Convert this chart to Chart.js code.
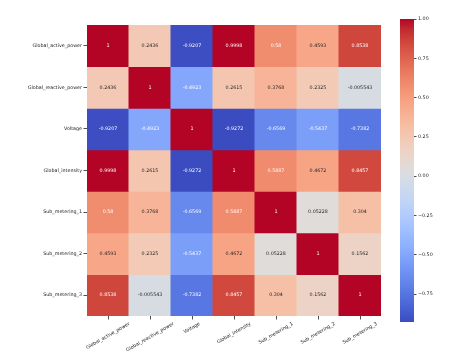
<!DOCTYPE html>
<html>
<head>
<meta charset="utf-8">
<script src="https://cdn.jsdelivr.net/npm/chart.js@4"></script>
<style>
html, body { margin: 0; padding: 0; background: #fff; }
#wrap { position: relative; width: 476px; height: 360px; }
canvas { position: absolute; left: 0; top: 0; }
</style>
</head>
<body>
<div id="wrap">
    <canvas id="heat" width="476" height="360"></canvas>
    <canvas id="cbar" width="476" height="360"></canvas>
</div>
<script>
// correlation matrix, one array per row
const labels = ["Global_active_power", "Global_reactive_power", "Voltage", "Global_intensity",
                "Sub_metering_1", "Sub_metering_2", "Sub_metering_3"];
const rowActive    = [1, 0.2436, -0.9207, 0.9998, 0.58, 0.4593, 0.8538];
const rowReactive  = [0.2436, 1, -0.4923, 0.2615, 0.3768, 0.2325, -0.005543];
const rowVoltage   = [-0.9207, -0.4923, 1, -0.9272, -0.6569, -0.5437, -0.7382];
const rowIntensity = [0.9998, 0.2615, -0.9272, 1, 0.5887, 0.4672, 0.8457];
const rowSub1      = [0.58, 0.3768, -0.6569, 0.5887, 1, 0.05228, 0.304];
const rowSub2      = [0.4593, 0.2325, -0.5437, 0.4672, 0.05228, 1, 0.1562];
const rowSub3      = [0.8538, -0.005543, -0.7382, 0.8457, 0.304, 0.1562, 1];
const cbarTicks    = [-0.75, -0.5, -0.25, 0, 0.25, 0.5, 0.75, 1];

const rows = [rowActive, rowReactive, rowVoltage, rowIntensity, rowSub1, rowSub2, rowSub3];
const vmin = Math.min(...rows.flat());
const vmax = Math.max(...rows.flat());

// coolwarm colormap stops
const cw = [
    [59,76,192],[68,90,204],[77,104,215],[87,117,225],[98,130,234],[108,142,241],[119,154,247],
    [130,165,251],[141,176,254],[152,185,255],[163,194,255],[174,201,253],[184,208,249],
    [194,213,244],[204,217,238],[213,219,230],[221,221,221],[229,216,209],[236,211,197],
    [241,204,185],[245,196,173],[247,187,160],[247,177,148],[247,166,135],[244,154,123],
    [241,141,111],[236,127,99],[229,112,88],[222,96,77],[213,80,66],[203,62,56],[192,40,47],[180,4,38]
];
function cmap(t) {
    t = Math.max(0, Math.min(1, t));
    const p = t * (cw.length - 1);
    const i = Math.min(Math.floor(p), cw.length - 2);
    const f = p - i;
    return cw[i].map((c, k) => c + (cw[i + 1][k] - c) * f);
}
const norm = v => (v - vmin) / (vmax - vmin);
const rgb = c => `rgb(${c.map(Math.round).join(",")})`;
function textColor(c) {
    const lin = c.map(x => { x /= 255; return x <= 0.03928 ? x / 12.92 : Math.pow((x + 0.055) / 1.055, 2.4); });
    const lum = 0.2126 * lin[0] + 0.7152 * lin[1] + 0.0722 * lin[2];
    return lum > 0.408 ? "#262626" : "#ffffff";
}
function fmt(v) {
    let s = v.toPrecision(4);
    if (s.indexOf(".") >= 0) s = s.replace(/0+$/, "").replace(/\.$/, "");
    return s;
}

const FONT = "DejaVu Sans";
const FS = 4.8;
const INK = "#222222";

const cellText = {
    id: "cellText",
    afterDatasetsDraw(chart) {
        const ctx = chart.ctx;
        ctx.save();
        ctx.font = `${FS}px "${FONT}"`;
        ctx.textAlign = "center";
        ctx.textBaseline = "middle";
        rows.forEach((row, i) => {
            const meta = chart.getDatasetMeta(i);
            meta.data.forEach((bar, j) => {
                const p = bar.getProps(["x", "y", "base"], true);
                ctx.fillStyle = textColor(cmap(norm(row[j])));
                ctx.fillText(fmt(row[j]), p.x, (p.y + p.base) / 2);
            });
        });
        ctx.restore();
    }
};

// rotated x labels, centred under their tick like matplotlib
const xLabels = {
    id: "xLabels",
    afterDraw(chart) {
        const ctx = chart.ctx;
        const xs = chart.scales.x;
        const ang = 30 * Math.PI / 180;
        ctx.save();
        ctx.font = `${FS}px "${FONT}"`;
        ctx.fillStyle = INK;
        ctx.textAlign = "center";
        ctx.textBaseline = "middle";
        labels.forEach((lab, j) => {
            const w = ctx.measureText(lab).width;
            const h = FS * 1.2;
            const H = w * Math.sin(ang) + h * Math.cos(ang);
            const top = chart.chartArea.bottom + 5;
            ctx.save();
            ctx.translate(xs.getPixelForTick(j), top + H / 2);
            ctx.rotate(-ang);
            ctx.fillText(lab, 0, 0);
            ctx.restore();
        });
        ctx.restore();
    }
};

new Chart(document.getElementById("heat").getContext("2d"), {
    type: "bar",
    data: {
        labels: labels,
        datasets: rows.map((row, i) => ({
            data: row.map(() => [i, i + 1]),
            backgroundColor: row.map(v => rgb(cmap(norm(v)))),
            grouped: false,
            barPercentage: 1,
            categoryPercentage: 1,
            borderWidth: 0,
            inflateAmount: 0.5
        }))
    },
    options: {
        responsive: false,
        animation: false,
        events: [],
        layout: { padding: { left: 0, top: 25, right: 95, bottom: 0 } },
        plugins: { legend: { display: false }, tooltip: { enabled: false } },
        scales: {
            x: {
                type: "category",
                offset: true,
                border: { display: false },
                grid: { drawOnChartArea: false, drawTicks: true, offset: false, tickLength: 3.5, tickWidth: 0.8, tickColor: INK },
                ticks: { display: false },
                afterFit: s => { s.height = 44; }
            },
            y: {
                type: "linear",
                min: 0,
                max: 7,
                reverse: true,
                afterBuildTicks: s => { s.ticks = labels.map((_, i) => ({ value: i + 0.5 })); },
                border: { display: false },
                grid: { drawOnChartArea: false, tickLength: 3.5, tickWidth: 0.8, tickColor: INK },
                ticks: { autoSkip: false, padding: 1.5, color: INK, font: { family: FONT, size: FS },
                         callback: (v, i) => labels[i] },
                afterFit: s => { s.width = 87; }
            }
        }
    },
    plugins: [cellText, xLabels]
});

new Chart(document.getElementById("cbar").getContext("2d"), {
    type: "bar",
    data: {
        labels: [""],
        datasets: [{
            data: [[vmin, vmax]],
            barPercentage: 1,
            categoryPercentage: 1,
            borderWidth: 0,
            backgroundColor: c => {
                const chart = c.chart;
                if (!chart.chartArea) return "#ddd";
                const ys = chart.scales.y;
                const g = chart.ctx.createLinearGradient(0, ys.getPixelForValue(vmin), 0, ys.getPixelForValue(vmax));
                cw.forEach((col, k) => g.addColorStop(k / (cw.length - 1), rgb(col)));
                return g;
            }
        }]
    },
    options: {
        responsive: false,
        animation: false,
        events: [],
        layout: { padding: { left: 400, top: 19, right: 0, bottom: 38 } },
        plugins: { legend: { display: false }, tooltip: { enabled: false } },
        scales: {
            x: { display: false },
            y: {
                position: "right",
                min: vmin,
                max: vmax,
                afterBuildTicks: s => { s.ticks = cbarTicks.map(v => ({ value: v })); },
                border: { display: false },
                grid: { drawOnChartArea: false, tickLength: 2.5, tickWidth: 0.8, tickColor: INK },
                ticks: { padding: 1.5, color: INK, font: { family: FONT, size: FS },
                         callback: v => (v < 0 ? "\u2212" : "") + Math.abs(v).toFixed(2) },
                afterFit: s => { s.width = 62; }
            }
        }
    }
});
</script>
</body>
</html>
